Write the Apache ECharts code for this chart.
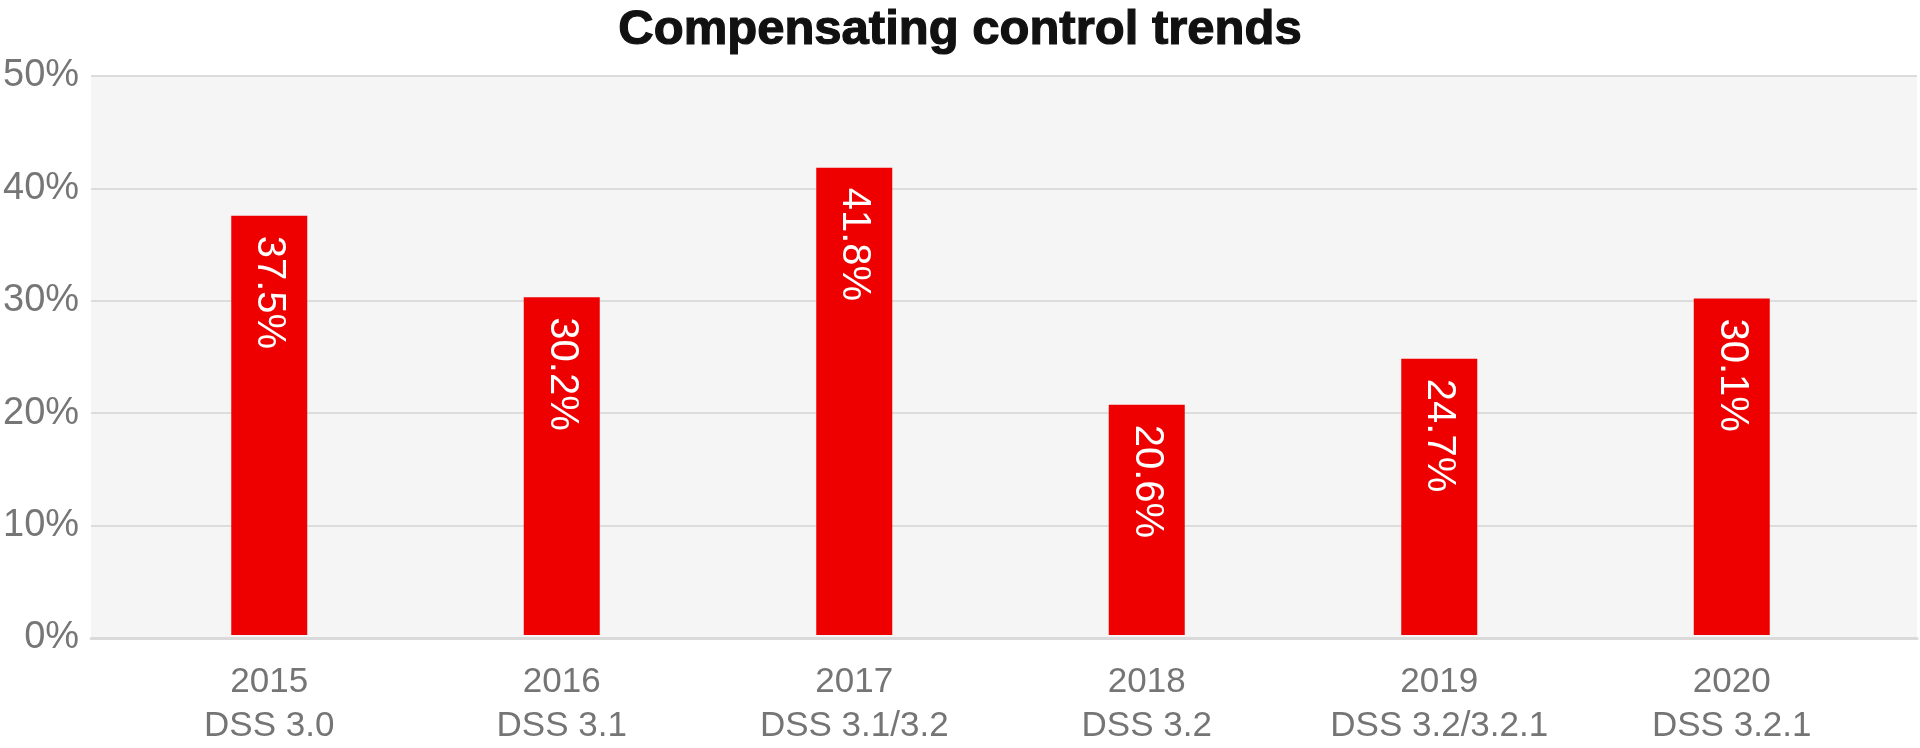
<!DOCTYPE html>
<html>
<head>
<meta charset="utf-8">
<title>Compensating control trends</title>
<script src="https://cdn.jsdelivr.net/npm/echarts@6/dist/echarts.min.js"></script>
<style>
    html, body { margin: 0; padding: 0; background: #fff; }
    #chart { width: 1920px; height: 748px; }
</style>
</head>
<body>
<div id="chart"></div>
<script>
// data
var years = ["2015", "2016", "2017", "2018", "2019", "2020"];
var versions = ["DSS 3.0", "DSS 3.1", "DSS 3.1/3.2", "DSS 3.2", "DSS 3.2/3.2.1", "DSS 3.2.1"];
var rates = [37.5, 30.2, 41.8, 20.6, 24.7, 30.1];
var yTicks = [0, 10, 20, 30, 40, 50];

(function () {
    var myChart = echarts.init(document.getElementById("chart"));
    var font = "'Liberation Sans', Arial, sans-serif";
    var categories = years.map(function (y, i) {
        return y + "\n" + versions[i];
    });

    var option = {
        animation: false,
        title: {
            text: "Compensating control trends",
            left: "center",
            top: 1,
            textStyle: {
                fontFamily: font,
                fontSize: 49,
                fontWeight: "bold",
                color: "#111",
                textBorderColor: "#111",
                textBorderWidth: 1.2
            }
        },
        grid: [
            {   // background + gridlines
                left: 91, right: 3, top: 76, bottom: 110,
                show: true,
                backgroundColor: "#f5f5f5",
                borderWidth: 0
            },
            {   // bars
                left: 123, right: 42, top: 76, bottom: 110
            }
        ],
        xAxis: [
            {
                gridIndex: 0,
                type: "value",
                min: 0,
                max: 1,
                axisLine: { show: true, lineStyle: { color: "#dadada", width: 3 } },
                axisTick: { show: false },
                axisLabel: { show: false },
                splitLine: { show: false }
            },
            {
                gridIndex: 1,
                type: "category",
                data: categories,
                axisLine: { show: false },
                axisTick: { show: false },
                axisLabel: {
                    margin: 25,
                    color: "#757575",
                    fontFamily: font,
                    fontSize: 35,
                    lineHeight: 44
                }
            }
        ],
        yAxis: [
            {
                gridIndex: 0,
                type: "value",
                min: yTicks[0],
                max: yTicks[yTicks.length - 1],
                interval: yTicks[1] - yTicks[0],
                axisLine: { show: false },
                axisTick: { show: false },
                axisLabel: {
                    margin: 12,
                    formatter: "{value}%",
                    color: "#767676",
                    fontFamily: font,
                    fontSize: 38
                },
                splitLine: { lineStyle: { color: "#dcdcdc", width: 2 } }
            },
            {
                gridIndex: 1,
                type: "value",
                min: yTicks[0],
                max: yTicks[yTicks.length - 1],
                show: false
            }
        ],
        series: [{
            type: "bar",
            xAxisIndex: 1,
            yAxisIndex: 1,
            barWidth: 76,
            data: rates,
            itemStyle: { color: "#ee0000" },
            label: {
                show: true,
                position: "insideTop",
                distance: 20,
                rotate: -90,
                align: "left",
                verticalAlign: "middle",
                formatter: "{c}%",
                color: "#fff",
                fontFamily: font,
                fontSize: 40
            }
        }]
    };

    myChart.setOption(option);
    window.addEventListener("resize", function () {
        myChart.resize();
    });
})();
</script>
</body>
</html>
